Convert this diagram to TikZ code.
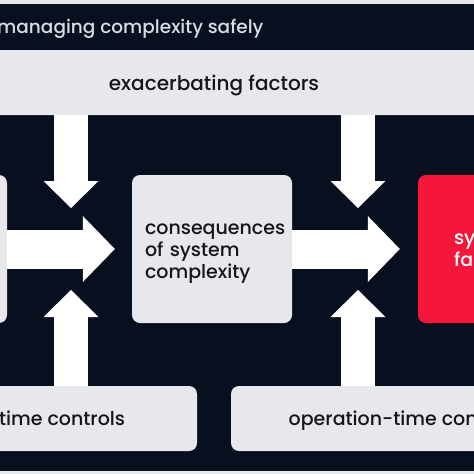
\documentclass[tikz,border=0pt]{standalone}
\usepackage{fontspec}
\setmainfont{Poppins Medium}
\usepackage{tikz}
\usetikzlibrary{arrows.meta, positioning}

\definecolor{navy}{HTML}{08101F}
\definecolor{boxgray}{HTML}{E6E8EB}
\definecolor{alarm}{HTML}{F5173B}
\definecolor{titlegray}{HTML}{D9DDE3}
\definecolor{ink}{HTML}{14161A}

\tikzset{
  box/.style={fill=boxgray, rounded corners=8pt, text=ink, inner sep=0pt, align=left,
    font=\fontsize{19}{22}\selectfont},
  harrow/.style={white, line width=39pt, -{Triangle[length=32pt, width=66pt, line width=0pt]}},
  varrow/.style={white, line width=34pt, -{Triangle[length=27pt, width=55pt, line width=0pt]}}
}

\begin{document}
\begin{tikzpicture}[x=1pt,y=-1pt,node distance=286pt,on grid]
    \useasboundingbox (0,0) rectangle (474,474);
    \clip (0,0) rectangle (474,474);
    \fill[boxgray] (0,0) rectangle (474,474);
    \fill[navy] (0,4) rectangle (474,471);
    \node[anchor=base west, text=titlegray, font=\fontsize{18.5}{22}\selectfont, inner sep=0pt] (title) at (-3,33) {managing complexity safely};
    \node[box, text depth=0pt, font=\fontsize{20}{22}\selectfont, minimum width=660pt, minimum height=65pt] (factors) at (214,82.5) {exacerbating factors};
    \node[box, text width=134pt, minimum width=160pt, minimum height=148pt] (conseq) at (212,249) {\rule{0pt}{20pt}consequences\\of system\\complexity};
    \node[box, minimum width=160pt, minimum height=148pt] (source) [left=285pt of conseq] {};
    \node[box, fill=alarm, text=white, text width=88pt, minimum width=160pt, minimum height=148pt] (failure) [right=of conseq] {system\\failure};
    \node[box, text depth=0pt, minimum width=346pt, minimum height=65pt] (design) at (24,418.5) {design-time controls};
    \node[box, text depth=0pt, minimum width=346pt, minimum height=65pt] (operation) at (404,418.5) {operation-time controls};
    \coordinate (dl) at (71,208);
    \coordinate (dr) at (358,208);
    \coordinate (ul) at (71,290);
    \coordinate (ur) at (358,290);
    \path
    (source) edge [harrow, shorten >=17pt] (conseq)
    (conseq) edge [harrow, shorten >=18pt] (failure)
    (factors.south -| dl) edge [varrow] (dl)
    (factors.south -| dr) edge [varrow] (dr)
    (design.north -| ul) edge [varrow] (ul)
    (operation.north -| ur) edge [varrow] (ur);
\end{tikzpicture}
\end{document}
